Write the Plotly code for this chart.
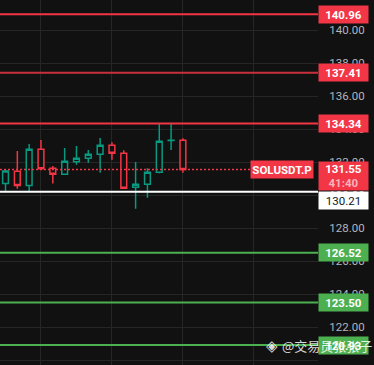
import plotly.graph_objects as go

# ---- data ----
idx = list(range(16))
opens  = [130.70, 131.45, 130.58, 132.78, 131.63, 131.27, 132.03, 132.23, 132.48, 133.02, 132.54, 130.48, 130.66, 131.39, 133.31, 133.32]
closes = [131.46, 130.58, 132.78, 131.60, 131.27, 132.05, 132.23, 132.48, 133.02, 132.54, 130.42, 130.66, 131.39, 133.26, 133.33, 131.55]
highs  = [131.57, 132.68, 133.10, 133.34, 131.77, 132.86, 132.98, 132.74, 133.46, 133.20, 132.72, 132.01, 131.63, 134.31, 134.31, 133.44]
lows   = [130.21, 130.39, 130.25, 131.60, 130.70, 131.27, 131.85, 131.97, 131.36, 132.15, 130.42, 129.18, 129.85, 131.33, 132.74, 131.36]

resist_levels = [140.96, 137.41, 134.34]
resist_line_colors = ["#f23645", "#c9303c", "#f23645"]
support_levels = [126.52, 123.50, 120.93]
pivot_level = 130.21
last_price = 131.55
countdown = "41:40"
symbol = "SOLUSDT.P"
y_ticks = [120, 122, 124, 126, 128, 130, 132, 134, 136, 138, 140]
x_grid = [3, 9, 15, 21]
watermark_icon = "◈"
watermark = "@交易员张张子"

BG = "#111111"
RED = "#f23645"
GREEN = "#4caf50"
TEAL = "#089981"
GRID = "#262626"
TICK = "#b2b5be"
FONT = "Roboto, Liberation Sans, Arial, sans-serif"

fig = go.Figure()
fig.add_trace(go.Candlestick(
    x=idx, open=opens, high=highs, low=lows, close=closes,
    increasing=dict(line=dict(color=TEAL, width=1.5), fillcolor=BG),
    decreasing=dict(line=dict(color=RED, width=1.5), fillcolor=BG),
    whiskerwidth=0, showlegend=False, hoverinfo="skip",
))

shapes = []
annotations = []

def level_label(y, text, bg, fg, yshift=0, height=15):
    annotations.append(dict(
        x=1, xref="paper", xanchor="left", y=y, yref="y", yanchor="middle",
        yshift=yshift, text=text, showarrow=False, bgcolor=bg,
        font=dict(color=fg, size=11.5, family=FONT, weight="bold"), width=47, height=height,
        borderpad=1, align="center"))

for lvl, c in zip(resist_levels, resist_line_colors):
    shapes.append(dict(type="line", xref="paper", x0=0, x1=1, yref="y", y0=lvl, y1=lvl,
                       line=dict(color=c, width=2), layer="above"))
    level_label(lvl, f"{lvl:.2f}", RED, "#ffffff")

for lvl in support_levels:
    shapes.append(dict(type="line", xref="paper", x0=0, x1=1, yref="y", y0=lvl, y1=lvl,
                       line=dict(color=GREEN, width=2), layer="above"))
    level_label(lvl, f"{lvl:.2f}", GREEN, "#ffffff")

shapes.append(dict(type="line", xref="paper", x0=0, x1=1, yref="y", y0=pivot_level, y1=pivot_level,
                   line=dict(color="#ffffff", width=2), layer="above"))
annotations.append(dict(
    x=1, xref="paper", xanchor="left", y=pivot_level, yref="y", yanchor="middle",
    yshift=-9, text=f"{pivot_level:.2f}", showarrow=False, bgcolor="#ffffff",
    font=dict(color="#131722", size=11.5, family=FONT), width=47, height=15,
    borderpad=1, align="center"))

# current price dotted line
shapes.append(dict(type="line", xref="paper", x0=0, x1=252/318, yref="y", y0=last_price, y1=last_price,
                   line=dict(color=RED, width=1.5, dash="2px,2px"), layer="above"))
level_label(last_price,
            f"{last_price:.2f}<br><span style='color:#f9b3b9'>{countdown}</span>",
            RED, "#ffffff", yshift=-6.5, height=26)
annotations.append(dict(
    x=314/318, xref="paper", xanchor="right", y=last_price, yref="y", yanchor="middle",
    text=symbol, showarrow=False, bgcolor=RED,
    font=dict(color="#ffffff", size=11.5, family=FONT, weight="bold"),
    width=60, height=15, borderpad=1))

# cut-off top tick label
annotations.append(dict(
    x=1, xref="paper", xanchor="left", xshift=8, y=142, yref="y", yanchor="middle",
    text="142.00", showarrow=False, font=dict(color=TICK, size=11.5, family=FONT)))

# watermark
annotations.append(dict(
    x=264/318, xref="paper", xanchor="left", y=(365-345.7)/365, yref="paper", yanchor="middle",
    text=watermark_icon, showarrow=False,
    font=dict(color="rgba(255,255,255,0.85)", size=15, family="DejaVu Sans")))
annotations.append(dict(
    x=280/318, xref="paper", xanchor="left", y=(365-345.7)/365, yref="paper", yanchor="middle",
    text=watermark, showarrow=False,
    font=dict(color="rgba(255,255,255,0.85)", size=13, family="Noto Sans CJK SC")))

fig.update_layout(
    width=374, height=365,
    margin=dict(l=0, r=56, t=0, b=0),
    paper_bgcolor=BG, plot_bgcolor=BG,
    shapes=shapes, annotations=annotations,
    xaxis=dict(range=[-0.465, 26.42], tickvals=x_grid, showticklabels=False,
               showgrid=True, gridcolor=GRID, gridwidth=1, zeroline=False,
               showline=False, rangeslider=dict(visible=False), fixedrange=True),
    yaxis=dict(range=[119.72, 141.816], side="right", tickvals=y_ticks,
               ticktext=[f"{v:.2f}" for v in y_ticks],
               tickfont=dict(color=TICK, size=11.5, family=FONT),
               showgrid=True, gridcolor=GRID, gridwidth=1, zeroline=False,
               showline=False, ticks="outside", ticklen=8, tickcolor="rgba(0,0,0,0)",
               fixedrange=True),
    showlegend=False,
)

fig.write_html("out.html")
